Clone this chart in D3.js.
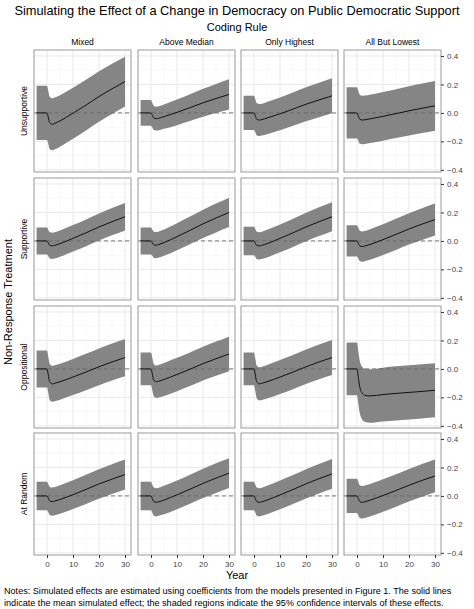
<!DOCTYPE html>
<html><head><meta charset="utf-8">
<script src="https://cdn.jsdelivr.net/npm/d3@7"></script>
<style>body{margin:0;background:#fff}text{font-family:"Liberation Sans",Arial,sans-serif}</style>
</head><body><svg id="c" width="474" height="609"></svg>
<script>
const columns = ["Mixed","Above Median","Only Highest","All But Lowest"];
const rows = ["Unsupportive","Supportive","Oppositional","At Random"];
const years = [-4,0,0.5,1,2,3,5,10,15,20,25,30];
const xTicks = [0,10,20,30];
const yTicks = [-0.4,-0.2,0,0.2,0.4];
// mean effect per panel [row][col]
const means = [
 [[0,0,-0.032,-0.068,-0.08,-0.074,-0.056,-0.002,0.055,0.115,0.169,0.22],
  [0,0,-0.016,-0.034,-0.04,-0.037,-0.026,0.004,0.037,0.071,0.101,0.13],
  [0,0,-0.02,-0.043,-0.05,-0.047,-0.036,-0.006,0.027,0.061,0.091,0.12],
  [0,0,-0.02,-0.043,-0.05,-0.048,-0.042,-0.024,-0.005,0.015,0.033,0.05]],
 [[0,0,-0.014,-0.03,-0.035,-0.031,-0.019,0.018,0.057,0.098,0.135,0.17],
  [0,0,-0.012,-0.026,-0.03,-0.025,-0.012,0.03,0.074,0.12,0.161,0.2],
  [0,0,-0.014,-0.03,-0.035,-0.031,-0.019,0.018,0.057,0.098,0.135,0.17],
  [0,0,-0.016,-0.034,-0.04,-0.036,-0.025,0.009,0.046,0.084,0.118,0.15]],
 [[0,0,-0.042,-0.089,-0.105,-0.101,-0.09,-0.057,-0.022,0.015,0.049,0.08],
  [0,0,-0.036,-0.077,-0.09,-0.086,-0.074,-0.039,-0.002,0.037,0.072,0.105],
  [0,0,-0.042,-0.089,-0.105,-0.101,-0.09,-0.057,-0.022,0.015,0.049,0.08],
  [0,0,-0.06,-0.12,-0.17,-0.185,-0.19,-0.18,-0.172,-0.165,-0.158,-0.15]],
 [[0,0,-0.016,-0.034,-0.04,-0.036,-0.025,0.009,0.046,0.084,0.118,0.15],
  [0,0,-0.018,-0.038,-0.045,-0.041,-0.029,0.008,0.047,0.088,0.125,0.16],
  [0,0,-0.018,-0.038,-0.045,-0.041,-0.029,0.007,0.045,0.085,0.121,0.155],
  [0,0,-0.018,-0.038,-0.045,-0.041,-0.03,0.003,0.038,0.075,0.109,0.14]]
];
// half-width of 95% interval per panel
const halfWidths = [
 [[0.19,0.19,0.186,0.184,0.183,0.182,0.181,0.179,0.178,0.177,0.176,0.175],
  [0.09,0.09,0.087,0.085,0.083,0.084,0.086,0.09,0.094,0.098,0.102,0.106],
  [0.12,0.12,0.116,0.113,0.112,0.112,0.113,0.115,0.117,0.119,0.121,0.123],
  [0.18,0.18,0.175,0.172,0.17,0.17,0.17,0.171,0.172,0.173,0.174,0.175]],
 [[0.095,0.095,0.093,0.092,0.092,0.092,0.092,0.093,0.094,0.095,0.096,0.097],
  [0.095,0.095,0.093,0.092,0.092,0.092,0.093,0.095,0.097,0.099,0.101,0.103],
  [0.1,0.1,0.098,0.097,0.096,0.096,0.097,0.098,0.099,0.1,0.101,0.102],
  [0.11,0.11,0.108,0.107,0.106,0.106,0.107,0.108,0.109,0.11,0.111,0.112]],
 [[0.13,0.13,0.128,0.127,0.126,0.126,0.126,0.127,0.128,0.129,0.13,0.131],
  [0.115,0.115,0.114,0.114,0.114,0.115,0.116,0.117,0.118,0.119,0.12,0.121],
  [0.115,0.115,0.115,0.115,0.116,0.117,0.118,0.119,0.12,0.121,0.122,0.123],
  [0.185,0.185,0.185,0.185,0.185,0.186,0.188,0.189,0.19,0.19,0.19,0.19]],
 [[0.1,0.1,0.099,0.099,0.099,0.099,0.1,0.101,0.102,0.103,0.104,0.105],
  [0.1,0.1,0.099,0.099,0.099,0.099,0.1,0.101,0.102,0.103,0.104,0.105],
  [0.1,0.1,0.099,0.099,0.099,0.099,0.1,0.101,0.102,0.103,0.104,0.105],
  [0.12,0.12,0.117,0.115,0.114,0.114,0.114,0.114,0.114,0.114,0.115,0.115]]
];

const svg = d3.select("#c");
const colLeft = [34,138,241,344], rowTop = [50,178,306,433], pw = 97, ph = 122;
const x = d3.scaleLinear().domain([-5,32.3]).range([0,pw]);
const y = d3.scaleLinear().domain([-0.415,0.442]).range([ph,0]);

svg.append("text").attr("x",237).attr("y",15).attr("text-anchor","middle").attr("font-size",12.8).text("Simulating the Effect of a Change in Democracy on Public Democratic Support");
svg.append("text").attr("x",237).attr("y",31).attr("text-anchor","middle").attr("font-size",11).text("Coding Rule");
svg.append("text").attr("transform","translate(12,302) rotate(-90)").attr("text-anchor","middle").attr("font-size",11).text("Non-Response Treatment");
svg.append("text").attr("x",237).attr("y",579).attr("text-anchor","middle").attr("font-size",11).text("Year");
svg.append("text").attr("x",4).attr("y",594).attr("font-size",9.1).text("Notes: Simulated effects are estimated using coefficients from the models presented in Figure 1. The solid lines");
svg.append("text").attr("x",4).attr("y",606).attr("font-size",9.1).text("indicate the mean simulated effect; the shaded regions indicate the 95% confidence intervals of these effects.");

columns.forEach((c,j)=>svg.append("text").attr("x",colLeft[j]+pw/2).attr("y",45).attr("text-anchor","middle").attr("font-size",8.5).text(c));
rows.forEach((r,i)=>svg.append("text").attr("transform",`translate(27,${rowTop[i]+ph/2}) rotate(-90)`).attr("text-anchor","middle").attr("font-size",8.5).text(r));

const xMinor=[-5,5,15,25], yMinor=[-0.3,-0.1,0.1,0.3];
rows.forEach((r,i)=>columns.forEach((c,j)=>{
  const g = svg.append("g").attr("transform",`translate(${colLeft[j]},${rowTop[i]})`);
  g.append("rect").attr("width",pw).attr("height",ph).attr("fill","#fff");
  g.selectAll(".xm").data(xMinor).join("line").attr("x1",x).attr("x2",x).attr("y1",0).attr("y2",ph).attr("stroke","#f2f2f2").attr("stroke-width",0.5);
  g.selectAll(".ym").data(yMinor).join("line").attr("y1",y).attr("y2",y).attr("x1",0).attr("x2",pw).attr("stroke","#f2f2f2").attr("stroke-width",0.5);
  g.selectAll(".xg").data(xTicks).join("line").attr("x1",x).attr("x2",x).attr("y1",0).attr("y2",ph).attr("stroke","#e6e6e6").attr("stroke-width",0.9);
  g.selectAll(".yg").data(yTicks).join("line").attr("y1",y).attr("y2",y).attr("x1",0).attr("x2",pw).attr("stroke","#e6e6e6").attr("stroke-width",0.9);
  const d = years.map((yr,k)=>({yr,m:means[i][j][k],h:halfWidths[i][j][k]}));
  g.append("path").datum(d).attr("fill","#858585")
    .attr("d",d3.area().x(p=>x(p.yr)).y0(p=>y(p.m-p.h)).y1(p=>y(p.m+p.h)).curve(d3.curveMonotoneX));
  g.append("line").attr("x1",0).attr("x2",pw).attr("y1",y(0)).attr("y2",y(0)).attr("stroke","#6a6a6a").attr("stroke-dasharray","4,3").attr("stroke-width",0.9);
  g.append("path").datum(d).attr("fill","none").attr("stroke","#111").attr("stroke-width",1)
    .attr("d",d3.line().x(p=>x(p.yr)).y(p=>y(p.m)).curve(d3.curveMonotoneX));
  g.append("rect").attr("width",pw).attr("height",ph).attr("fill","none").attr("stroke","#9a9a9a").attr("stroke-width",1);
  if(j===3){
    const ax = g.append("g").attr("transform",`translate(${pw},0)`).call(d3.axisRight(y).tickValues(yTicks).tickSize(3).tickFormat(d3.format(".1f")));
    ax.select(".domain").remove();
    ax.selectAll("line").attr("stroke","#333");
    ax.selectAll("text").attr("font-size",8).attr("fill","#444").text(v=>d3.format(".1f")(v).replace("-","\u2212"));
  }
  if(i===3){
    const ax = g.append("g").attr("transform",`translate(0,${ph})`).call(d3.axisBottom(x).tickValues(xTicks).tickSize(3));
    ax.select(".domain").remove();
    ax.selectAll("line").attr("stroke","#333");
    ax.selectAll("text").attr("font-size",8).attr("fill","#444");
  }
}));
</script></body></html>
